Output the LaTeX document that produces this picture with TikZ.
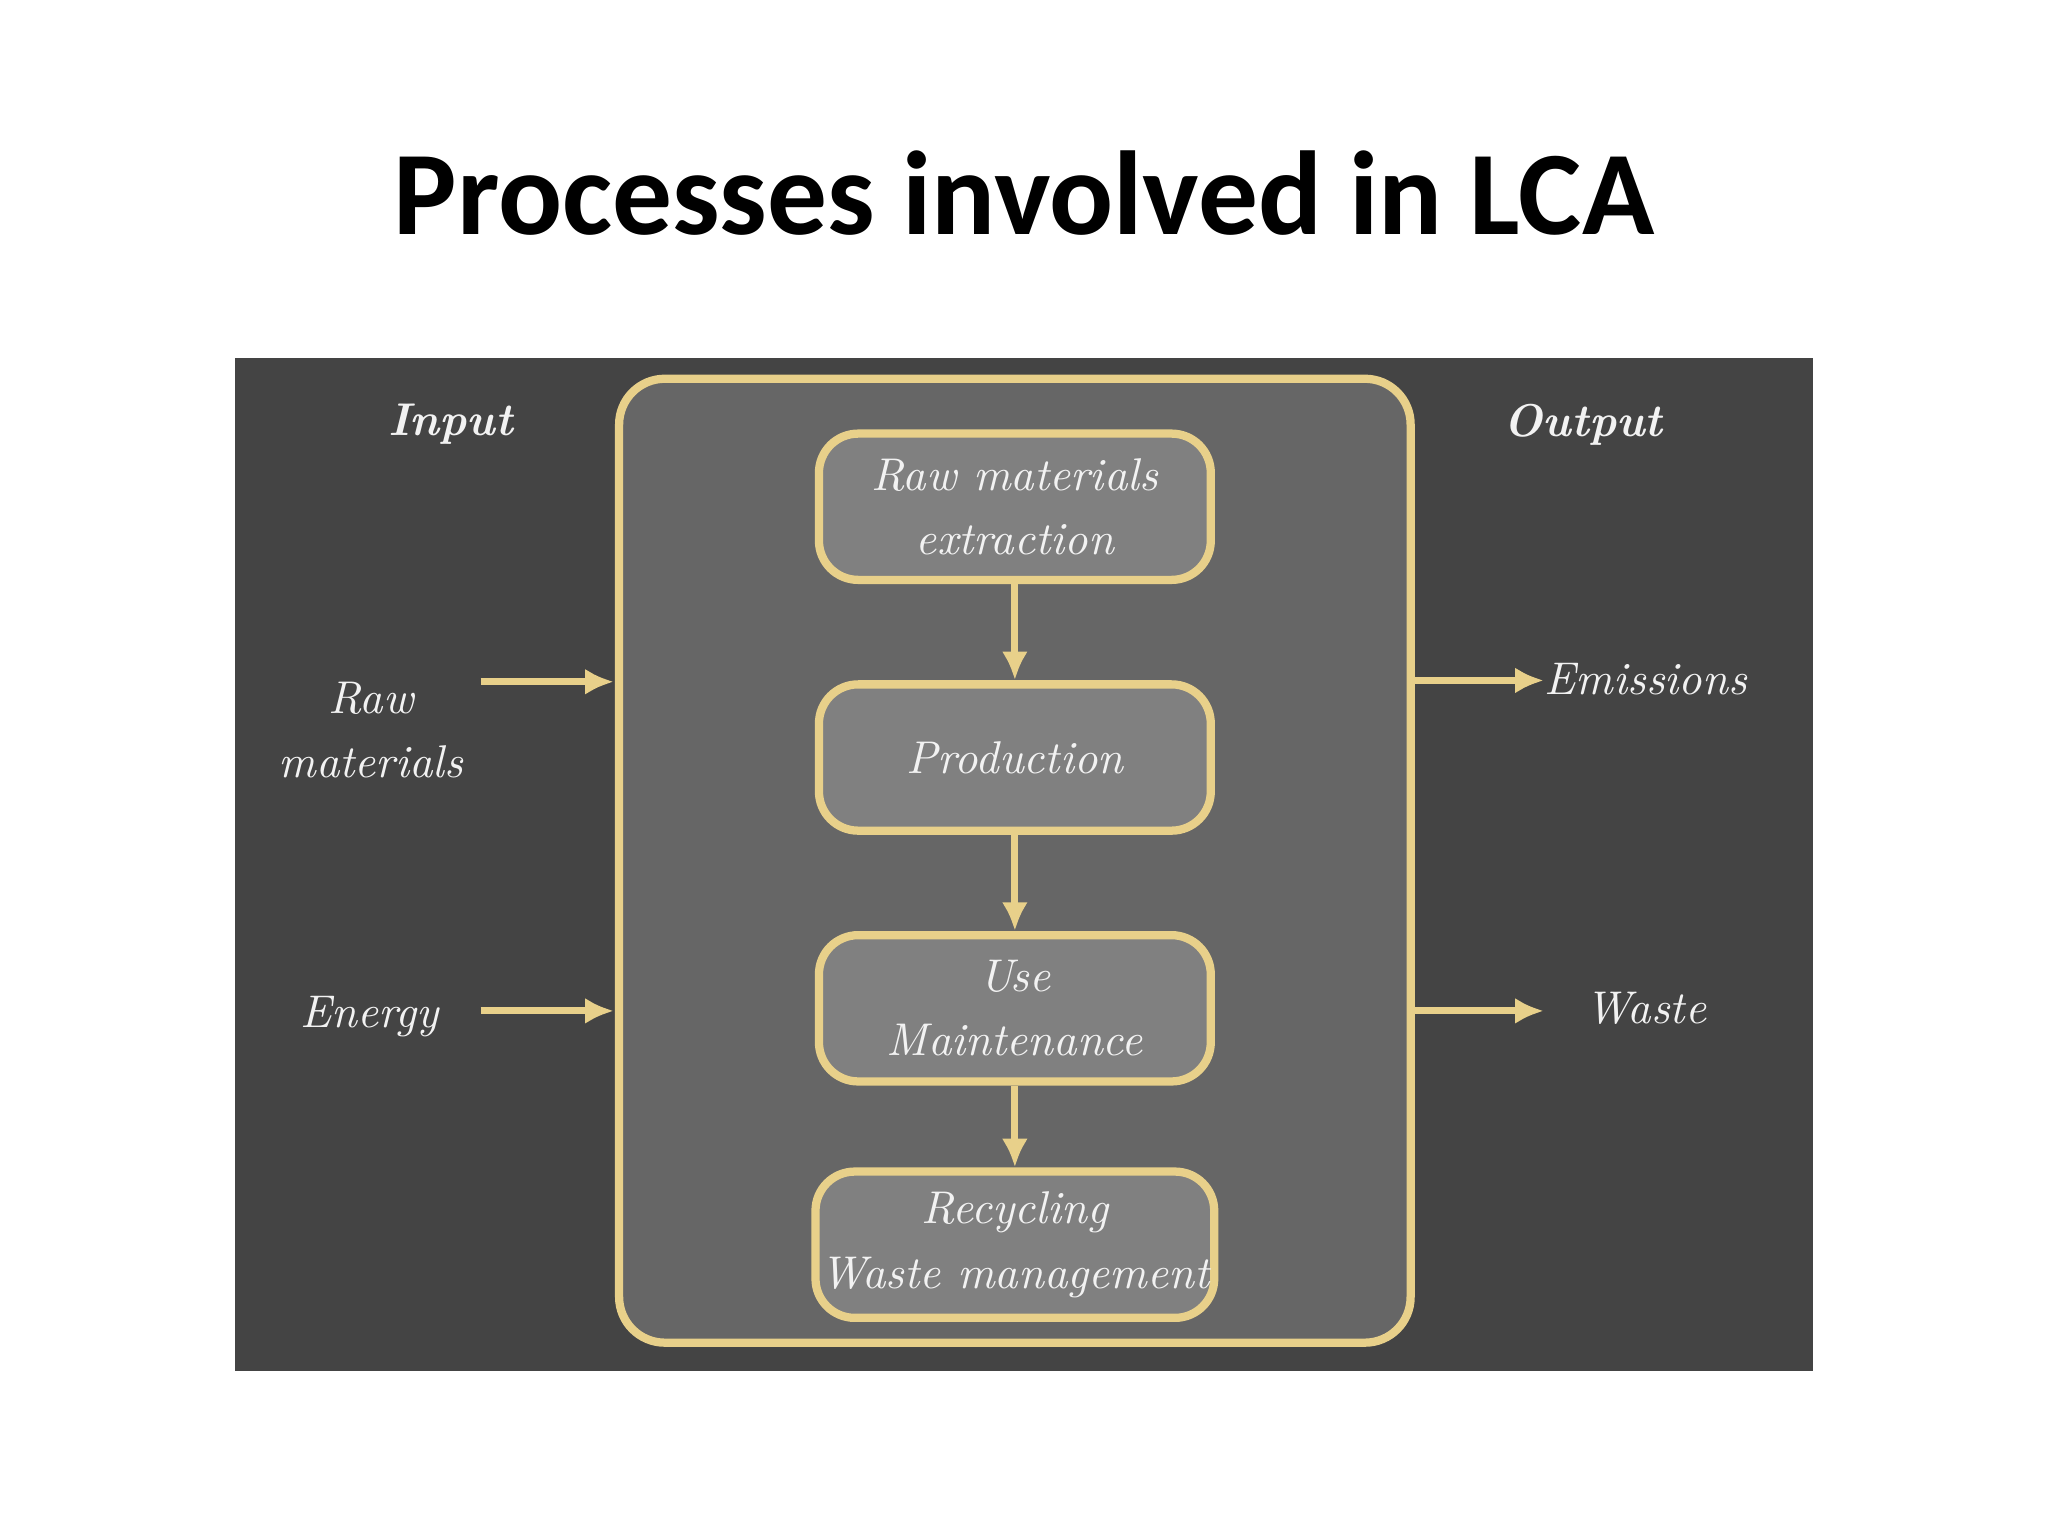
\documentclass[tikz,border=0pt]{standalone}
\usepackage{fontspec}
\newfontfamily\titlefont{Carlito}
\usetikzlibrary{arrows.meta}
\definecolor{gold}{HTML}{E8D08A}
\definecolor{darkbg}{HTML}{444444}
\definecolor{midbg}{HTML}{666666}
\definecolor{boxbg}{HTML}{808080}
\definecolor{txt}{HTML}{F2F2F2}
\tikzset{
 stagebox/.style={draw=gold,line width=1.8pt,fill=boxbg,rounded corners=0.3cm,minimum width=3cm,minimum height=1.12cm,align=center,text=txt,font=\fontsize{10}{14}\selectfont\itshape,inner sep=1pt},
 lbl/.style={text=txt,align=center,font=\fontsize{10}{14}\selectfont\itshape},
 hdr/.style={text=txt,font=\fontsize{10}{14}\selectfont\bfseries\itshape},
 flow/.style={draw=gold,line width=1.5pt,-{Latex[length=0.22cm,width=0.2cm]}}
}
\begin{document}
\begin{tikzpicture}
\useasboundingbox[fill=white] (0,0) rectangle (15.68,11.76);
\node[font=\titlefont\fontsize{26}{30}\selectfont\bfseries] (title) at (7.84,10.28) {Processes involved in LCA};
\fill[darkbg] (1.80,1.26) rectangle (13.88,9.02);
\draw[gold,fill=midbg,line width=1.8pt,rounded corners=0.35cm] (4.74,1.48) rectangle (10.80,8.86);
\node[coordinate] (inL) at (4.70,5.0) {};
\node[stagebox] (s1) at (7.77,7.88) {Raw materials\\extraction};
\node[stagebox] (s2) at (7.77,5.96) {Production};
\node[stagebox] (s3) at (7.77,4.04) {Use\\Maintenance};
\node[stagebox] (s4) at (7.77,2.23) {Recycling\\Waste management};
\draw[flow] (s1) -- (s2);
\draw[flow] (s2) -- (s3);
\draw[flow] (s3) -- (s4);
\node[hdr] (in) at (3.45,8.51) {Input};
\node[hdr] (out) at (12.12,8.51) {Output};
\node[lbl] (rm) at (2.84,6.17) {Raw\\materials};
\node[lbl] (en) at (2.83,3.98) {Energy};
\node[lbl] (em) at (12.60,6.56) {Emissions};
\node[lbl] (wa) at (12.60,4.04) {Waste};
\coordinate (a1s) at (3.68,6.54); \coordinate (a1e) at (4.70,6.54);
\coordinate (a2s) at (3.68,4.02); \coordinate (a2e) at (4.70,4.02);
\coordinate (b1s) at (10.82,6.55); \coordinate (b1e) at (11.82,6.55);
\coordinate (b2s) at (10.82,4.02); \coordinate (b2e) at (11.82,4.02);
\draw[flow] (a1s) -- (a1e);
\draw[flow] (a2s) -- (a2e);
\draw[flow] (b1s) -- (b1e);
\draw[flow] (b2s) -- (b2e);
\end{tikzpicture}
\end{document}
